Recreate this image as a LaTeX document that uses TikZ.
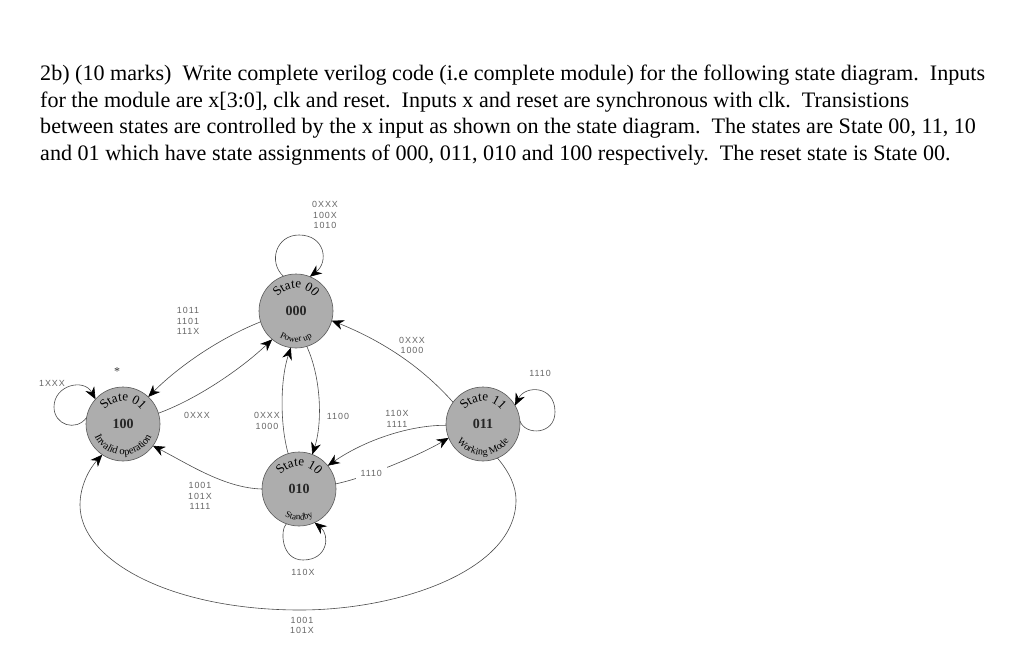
\documentclass[tikz,border=0pt]{standalone}
\usepackage{fontspec}
\setmainfont{Liberation Serif}
\newfontfamily\lblfont[LetterSpace=11]{Liberation Sans}
\usetikzlibrary{arrows.meta,decorations.text,calc}
\tikzset{
  statenode/.style={circle,draw=black!65,line width=0.6pt,fill=black!32,minimum size=74pt,inner sep=0pt,outer sep=0pt},
  conn/.style={draw=black!70,line width=0.6pt},
  arr/.style={conn,-{Stealth[length=12pt,width=10pt,black]}},
  para/.style={anchor=base west,inner sep=0pt,font=\fontsize{22.1}{24}\selectfont},
  lbl/.style={inner sep=0pt,align=center,text=black!60,font=\lblfont\fontsize{8.9}{10.8}\selectfont},
  code/.style={inner sep=0pt,font=\bfseries\fontsize{14}{16}\selectfont,text=black!85},
}
\newcommand{\toptext}[2]{\path[decorate,decoration={text along path,text align=center,text={|\fontsize{13}{14}\selectfont|#2}}] ($(#1)+(160:23)$) arc (160:20:23);}
\newcommand{\bottext}[4]{\path[decorate,decoration={text along path,text align=center,text={|\fontsize{#3}{12}\selectfont|#2}}] ($(#1)+(#4:31)$) arc (#4:540-#4:31);}
\begin{document}
\begin{tikzpicture}[x=1pt,y=1pt]
\useasboundingbox (0,0) rectangle (1024,-663);
\fill[white] (0,0) rectangle (1024,-663);
\node[para] (p1) at (40,-81) {2b) (10 marks)\ \ Write complete verilog code (i.e complete module) for the following state diagram.\ \ Inputs};
\node[para] (p2) at (40,-107.5) {for the module are x[3:0], clk and reset.\ \ Inputs x and reset are synchronous with clk.\ \ Transistions};
\node[para] (p3) at (40,-134) {between states are controlled by the x input as shown on the state diagram.\ \ The states are State 00, 11, 10};
\node[para] (p4) at (40,-160.5) {and 01 which have state assignments of 000, 011, 010 and 100 respectively.\ \ The reset state is State 00.};

\node[statenode] (s00) at (296,-311) {};
\node[statenode] (s01) at (123,-424) {};
\node[statenode] (s10) at (299,-489) {};
\node[statenode] (s11) at (483,-424) {};

\node[code] (c00) at (s00) {000};
\node[code] (c01) at (s01) {100};
\node[code] (c10) at (s10) {010};
\node[code] (c11) at (s11) {011};

\toptext{s00}{State 00}
\toptext{s01}{State 01}
\toptext{s10}{State 10}
\toptext{s11}{State 11}
\bottext{s00}{Power up}{9}{215}
\bottext{s01}{Invalid operation}{10.5}{195}
\bottext{s10}{Standby}{9}{215}
\bottext{s11}{Working Mode}{10}{205}

% self loops
\draw[arr] (s00.110) .. controls (268,-262) and (276,-235) .. (299,-235) .. controls (325,-235) and (329,-262) .. (s00.68);
\draw[arr] (s01.170) .. controls (76,-432) and (54,-425) .. (54,-407) .. controls (54,-385) and (84,-378) .. (s01.138);
\draw[arr] (s10.250) .. controls (280,-530) and (281,-560) .. (303,-560) .. controls (328,-560) and (330,-535) .. (s10.295);
\draw[arr] (s11.5) .. controls (525,-436) and (555,-435) .. (555,-412) .. controls (555,-385) and (525,-385) .. (s11.30);

% connectors
\draw[arr] (s00.197) .. controls (215,-340) and (175,-370) .. (s01.47);
\draw[arr] (s01.17) .. controls (195,-400) and (240,-370) .. (s00.230);
\draw[arr] (s10.107) .. controls (280,-425) and (280,-380) .. (s00.262);
\draw[arr] (s00.287) .. controls (322,-380) and (322,-425) .. (s10.69);
\draw[arr] (s10.180) .. controls (225,-488) and (190,-465) .. (s01.324);
\draw[arr] (s11.182) .. controls (410,-425) and (365,-440) .. (s10.39);
\draw[arr] (s10.8) .. controls (365,-478) and (420,-455) .. node[pos=0.33,fill=white,lbl,inner xsep=5pt,inner ysep=3pt] (l1110b) {1110} (s11.202);
\draw[arr] (s11.144) .. controls (420,-365) and (380,-340) .. (s00.345);
\coordinate (bigA) at (516,-500);
\coordinate (bigB) at (300,-610);
\coordinate (bigC) at (80,-505);
\draw[arr] (s11.293) .. controls (510,-473) and (516,-487) .. (bigA) .. controls (516,-570) and (400,-610) .. (bigB) .. controls (170,-610) and (80,-560) .. (bigC) .. controls (80,-485) and (90,-468) .. (s01.236);

% labels
\node[lbl] (l1) at (325,-215) {0XXX\\100X\\1010};
\node[lbl] (l2) at (188,-321) {1011\\1101\\111X};
\node[lbl] (l3) at (412,-345.5) {0XXX\\1000};
\node[lbl] (l4) at (540,-373) {1110};
\node[lbl] (l5) at (52,-383) {1XXX};
\node[lbl] (l6) at (197,-415) {0XXX};
\node[lbl] (l7) at (267,-421) {0XXX\\1000};
\node[lbl] (l8) at (338,-416) {1100};
\node[lbl] (l9) at (397,-419) {110X\\1111};
\node[lbl] (l10) at (200,-496) {1001\\101X\\1111};
\node[lbl] (l11) at (303,-572) {110X};
\node[lbl] (l12) at (302,-625.5) {1001\\101X};
\node[inner sep=0pt,font=\fontsize{12}{12}\selectfont,text=black!80] (star) at (117,-372) {*};
\end{tikzpicture}
\end{document}
